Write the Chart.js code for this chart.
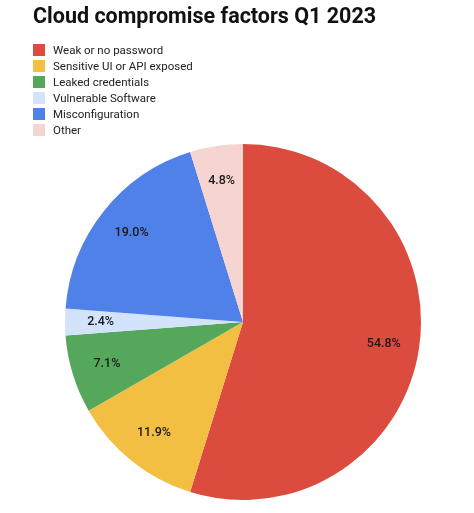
<!DOCTYPE html>
<html>
<head>
<meta charset="utf-8">
<script src="https://cdn.jsdelivr.net/npm/chart.js@4/dist/chart.umd.min.js"></script>
<style>
  html, body { margin: 0; padding: 0; background: #fff; }
  #wrap { position: relative; width: 474px; height: 513px; }
  #legend { position: absolute; left: 33px; top: 42px; margin: 0; padding: 0; list-style: none;
            font-family: Roboto, "Noto Sans", sans-serif; font-size: 11.5px; color: #222; }
  #legend li { display: flex; align-items: center; height: 16px; }
  #legend span { display: inline-block; width: 12px; height: 12px; margin-right: 8px; }
</style>
</head>
<body>
<div id="wrap">
  <canvas id="pieChart" width="474" height="513"></canvas>
  <ul id="legend"></ul>
</div>
<script>
const categories = ['Weak or no password', 'Sensitive UI or API exposed', 'Leaked credentials',
                    'Vulnerable Software', 'Misconfiguration', 'Other'];
const shares = [54.8, 11.9, 7.1, 2.4, 19.0, 4.8];
const sliceColors = ['#DB4C3F', '#F3BF42', '#55A85B', '#D3E3FB', '#4F81E9', '#F5D4D1'];

// draws the % labels inside each slice
const sliceLabels = {
    id: 'sliceLabels',
    afterDatasetsDraw(chart) {
        const ctx = chart.ctx;
        const meta = chart.getDatasetMeta(0);
        ctx.save();
        ctx.font = '500 12.5px Roboto, sans-serif';
        ctx.fillStyle = '#1a1a1a';
        ctx.textAlign = 'center';
        ctx.textBaseline = 'middle';
        meta.data.forEach((arc, i) => {
            const p = arc.getProps(['x', 'y', 'startAngle', 'endAngle', 'outerRadius'], true);
            const mid = (p.startAngle + p.endAngle) / 2;
            const d = p.outerRadius * 0.8;
            ctx.fillText(shares[i].toFixed(1) + '%', p.x + Math.cos(mid) * d, p.y + Math.sin(mid) * d);
        });
        ctx.restore();
    }
};

const chart = new Chart(document.getElementById('pieChart'), {
    type: 'pie',
    data: {
        labels: categories,
        datasets: [{ data: shares, backgroundColor: sliceColors, borderWidth: 0 }]
    },
    options: {
        responsive: false,
        animation: false,
        layout: { padding: { left: 33, right: 21, top: 0, bottom: 13 } },
        plugins: {
            legend: { display: false },
            tooltip: { enabled: false },
            title: {
                display: true,
                text: 'Cloud compromise factors Q1 2023',
                align: 'start',
                color: '#111',
                font: { family: 'Roboto, sans-serif', size: 21.5, weight: 'bold', lineHeight: 1.2 },
                padding: { top: 5, bottom: 113.2 }
            }
        }
    },
    plugins: [sliceLabels]
});

const legendEl = document.getElementById('legend');
chart.options.plugins.legend.labels.generateLabels(chart).forEach(item => {
    const li = document.createElement('li');
    const box = document.createElement('span');
    box.style.background = item.fillStyle;
    li.appendChild(box);
    li.appendChild(document.createTextNode(item.text));
    legendEl.appendChild(li);
});
</script>
</body>
</html>
